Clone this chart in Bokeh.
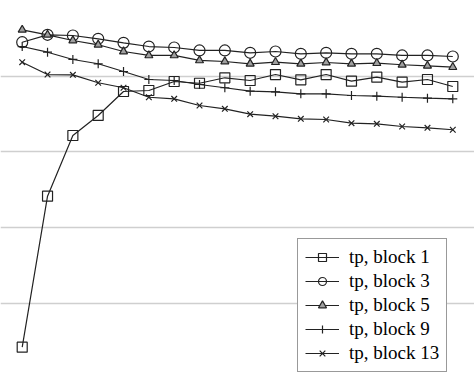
from bokeh.plotting import figure
from bokeh.models import Range1d, Grid, FixedTicker, Legend, LegendItem
from bokeh.embed import file_html
from bokeh.resources import INLINE

# x positions (iteration index)
steps = list(range(1, 19))

# series values (in gridline units)
block1 = [0.418, 2.413, 3.215, 3.480, 3.797, 3.810, 3.929, 3.906, 3.978,
          3.942, 4.021, 3.951, 4.021, 3.933, 3.986, 3.920, 3.955, 3.863]
block3 = [4.448, 4.546, 4.537, 4.493, 4.440, 4.391, 4.378, 4.339, 4.339,
          4.308, 4.325, 4.295, 4.308, 4.295, 4.295, 4.273, 4.273, 4.259]
block5 = [4.612, 4.546, 4.471, 4.414, 4.325, 4.273, 4.273, 4.207, 4.193,
          4.163, 4.184, 4.163, 4.180, 4.163, 4.171, 4.150, 4.136, 4.118]
block9 = [4.391, 4.316, 4.220, 4.163, 4.061, 3.955, 3.942, 3.889, 3.846,
          3.801, 3.793, 3.766, 3.766, 3.744, 3.735, 3.721, 3.708, 3.700]
block13 = [4.184, 4.021, 4.017, 3.912, 3.846, 3.721, 3.700, 3.612, 3.568,
           3.497, 3.470, 3.436, 3.427, 3.378, 3.370, 3.334, 3.317, 3.291]

labels = ["tp, block 1", "tp, block 3", "tp, block 5", "tp, block 9", "tp, block 13"]
grid_ticks = [1, 2, 3, 4]

p = figure(width=474, height=379, output_backend="svg", toolbar_location=None,
           x_axis_type=None, y_axis_type=None, min_border=0,
           x_range=Range1d(0.143, 18.857), y_range=Range1d(-0.0093, 4.9993))
p.outline_line_color = None
p.background_fill_color = "white"

p.add_layout(Grid(dimension=1, ticker=FixedTicker(ticks=grid_ticks),
                  grid_line_color="#cfcfcf", grid_line_width=1.5))

line_color = "#222222"
series = [
    (block1, "square", 10, None),
    (block3, "circle", 11, None),
    (block5, "triangle", 8, "#a0a0a0"),
    (block9, "cross", 9, None),
    (block13, "x", 8, None),
]

items = []
for (vals, marker, size, fill), lab in zip(series, labels):
    ln = p.line(steps, vals, line_color=line_color, line_width=1.2)
    sc = p.scatter(steps, vals, marker=marker, size=size,
                   line_color=line_color, line_width=1.2,
                   fill_color=fill if fill else "white",
                   fill_alpha=1.0 if fill else 0.0)
    items.append(LegendItem(label=lab, renderers=[ln, sc]))

legend = Legend(items=items, location=(297, 7),
                border_line_color="#333333", border_line_width=1.2,
                background_fill_color="white", background_fill_alpha=1.0,
                label_text_font="Liberation Serif", label_text_font_size="19px",
                label_text_color="black",
                glyph_width=34, glyph_height=20, spacing=2, padding=7,
                margin=0, label_standoff=10)
p.add_layout(legend, "center")

open("out.html", "w").write(file_html(p, INLINE))
